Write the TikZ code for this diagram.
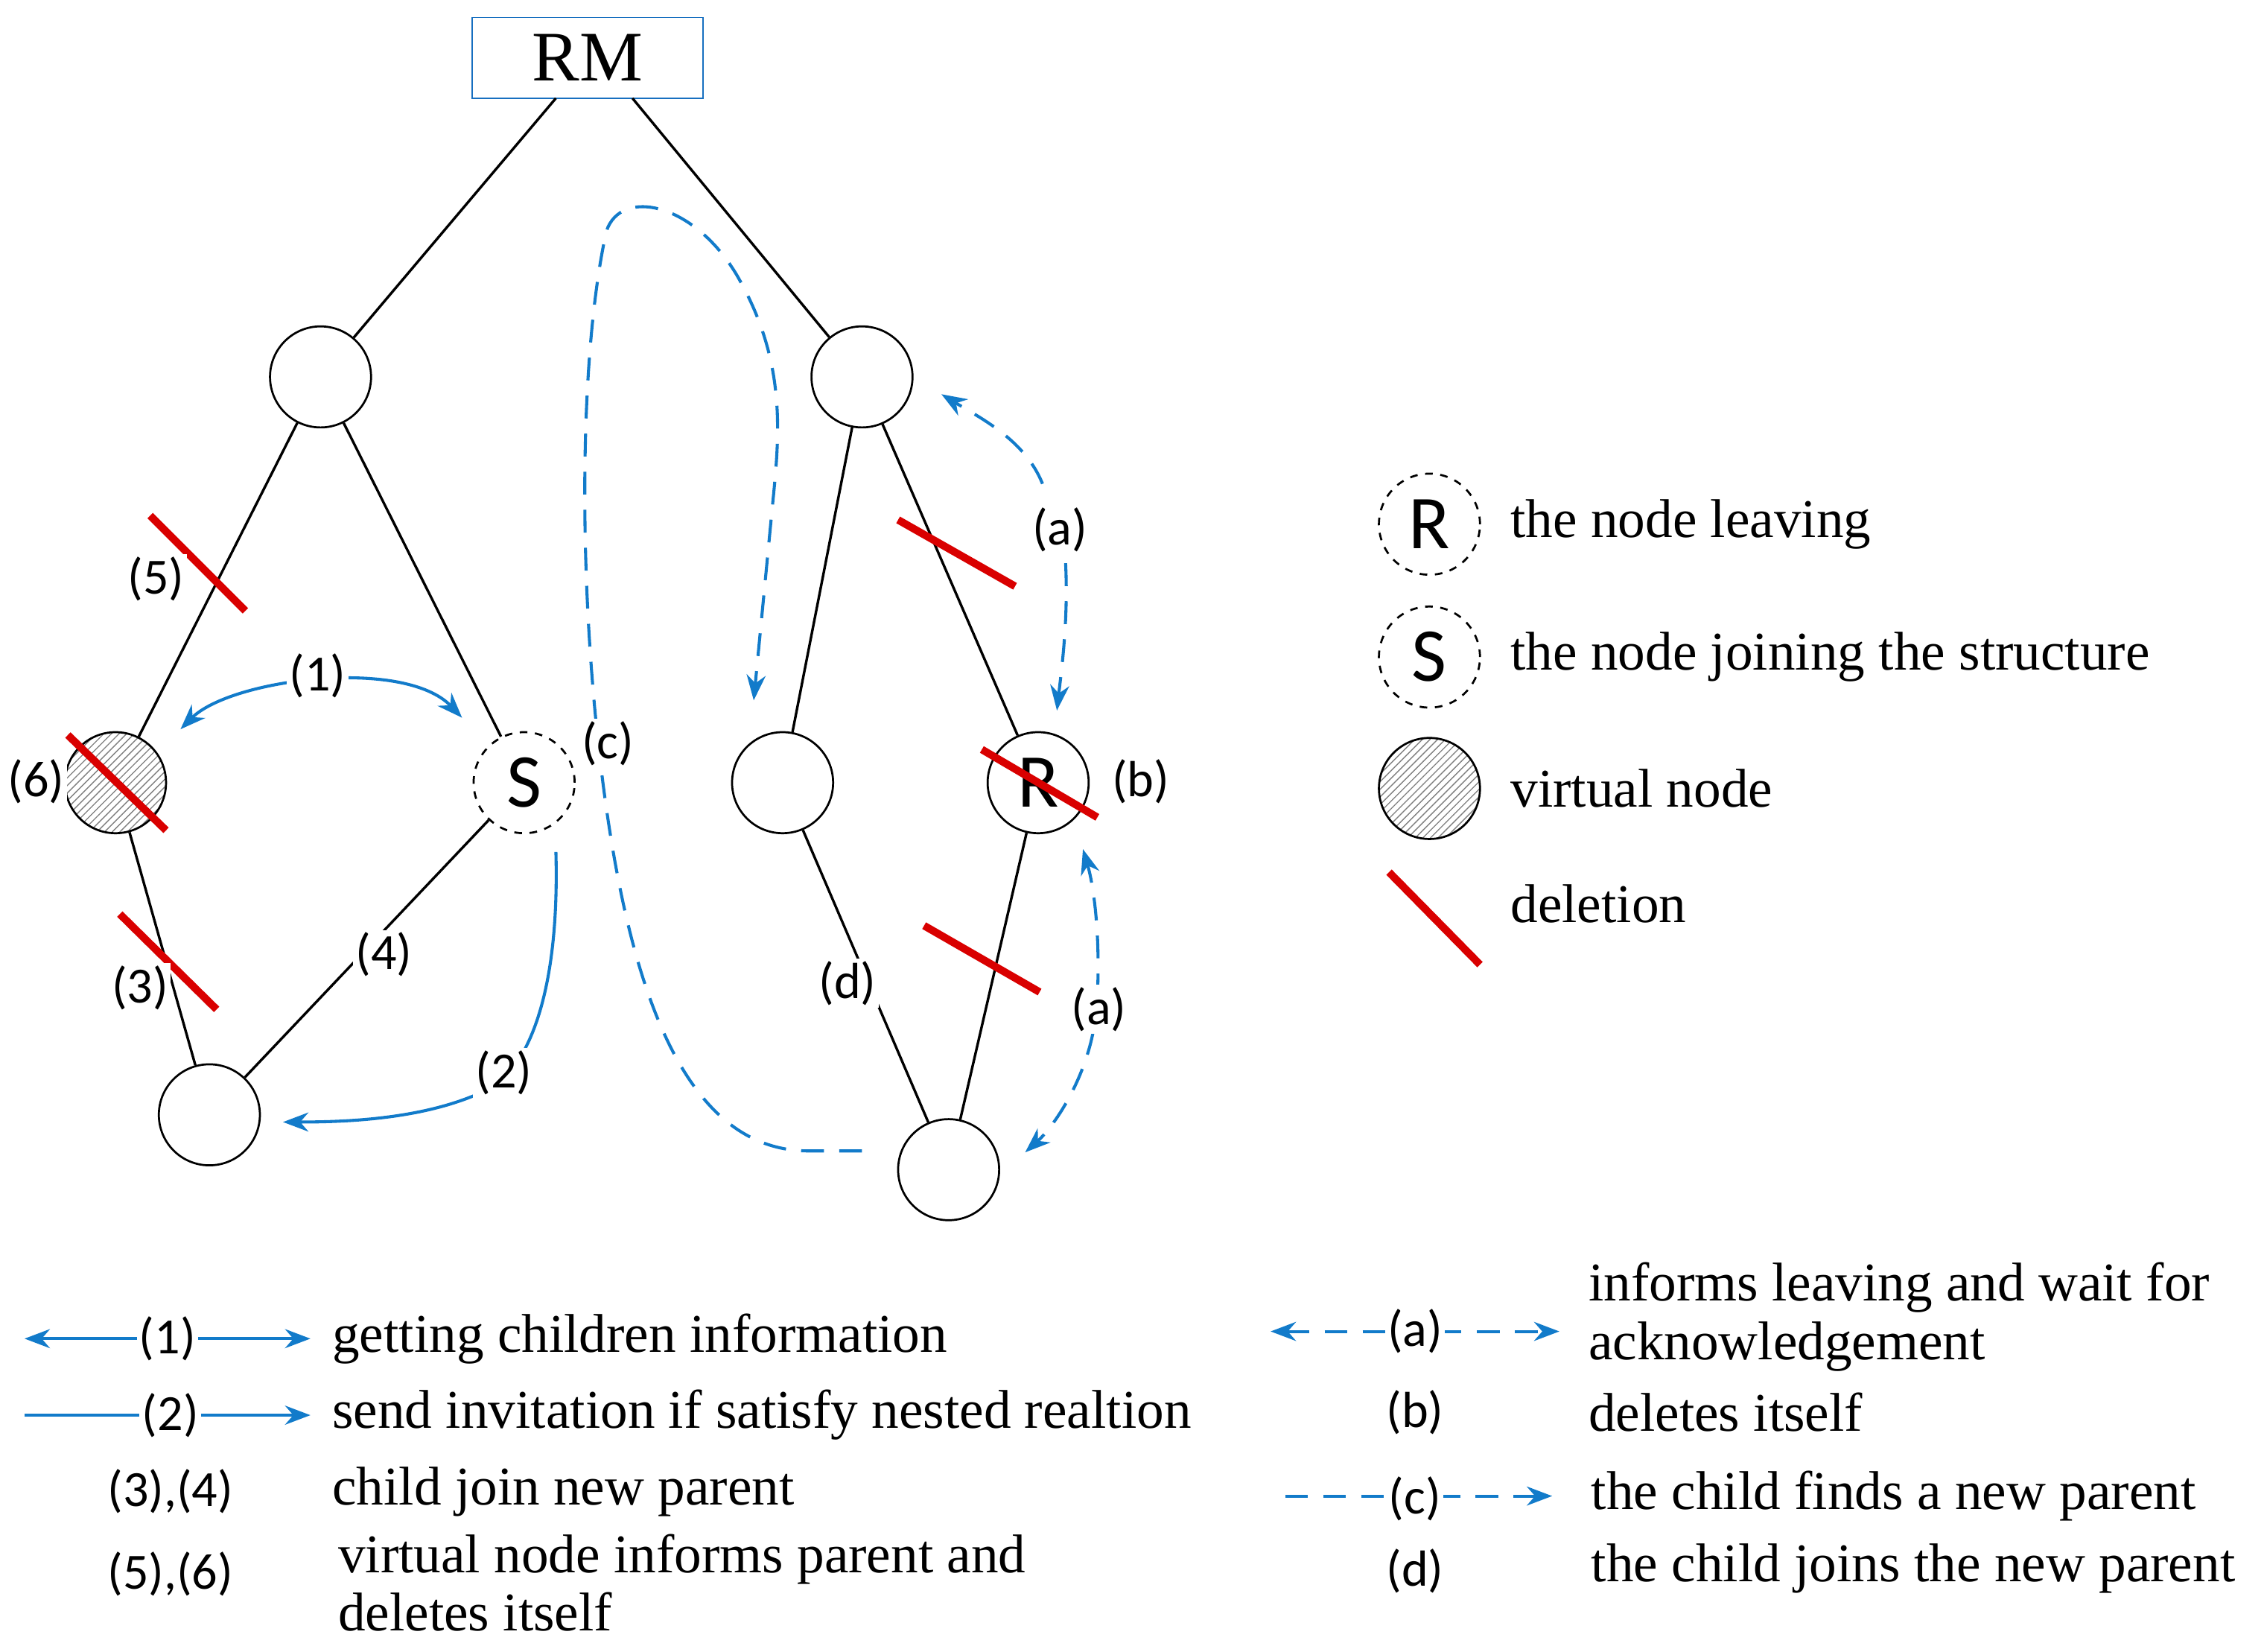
\documentclass[tikz,border=0pt]{standalone}
\usepackage{fontspec}
\setmainfont{Liberation Serif}
\newfontfamily\lab{Carlito}
\usetikzlibrary{patterns,arrows.meta}
\begin{document}
\begin{tikzpicture}[x=0.02cm,y=-0.02cm,
  tn/.style={draw,circle,minimum size=1.4cm,inner sep=0pt,line width=0.8pt},
  dn/.style={tn,dashed,font=\lab\fontsize{30}{30}\selectfont},
  ed/.style={line width=1pt},
  del/.style={draw=red!85!black,line width=3pt},
  bl/.style={draw=cyan!60!blue,line width=1.2pt,-{Stealth[length=10pt]}},
  bld/.style={bl,dash pattern=on 9pt off 6pt},
  lb/.style={font=\lab\fontsize{20}{20}\selectfont,fill=white,inner sep=1pt},
  lt/.style={font=\fontsize{21.5}{23}\selectfont,anchor=west,align=left}]
\useasboundingbox (0,0) rectangle (1568,1144);
\node[draw=cyan!50!blue,minimum width=3.2cm,minimum height=1.12cm,font=\fontsize{28}{28}\selectfont] (RM) at (407,40) {RM};
\node[tn] (A) at (222,261) {};
\node[tn] (B) at (597,261) {};
\node[tn,pattern=north east lines,pattern color=gray] (V) at (80,542) {};
\node[dn] (S) at (363,542) {S};
\node[tn] (C) at (542,542) {};
\node[dn,solid] (R) at (719,542) {R};
\node[tn] (L1) at (145,772) {};
\node[tn] (L2) at (657,810) {};
\coordinate (r1) at (385,68); \coordinate (r2) at (438,68);
\draw[ed] (r1)--(A); \draw[ed] (r2)--(B);
\draw[ed] (A)--(V); \draw[ed] (A)--(S); \draw[ed] (V)--(L1); \draw[ed] (S)--(L1);
\draw[ed] (B)--(C); \draw[ed] (B)--(R); \draw[ed] (C)--(L2); \draw[ed] (R)--(L2);
\draw[del] (104,357)--(170,423); \draw[del] (622,360)--(703,406);
\draw[del] (47,509)--(115,575); \draw[del] (680,519)--(760,566);
\draw[del] (83,633)--(150,699); \draw[del] (640,641)--(720,687);
\draw[bl,{Stealth[length=10pt]}-{Stealth[length=10pt]}] (125,505) .. controls (160,470) and (280,455) .. (320,497);
\draw[bl] (385,590) .. controls (388,700) and (360,750) .. (330,758) .. controls (290,775) and (240,777) .. (196,777);
\draw[bld] (722,335) .. controls (710,305) and (680,290) .. (652,273);
\draw[bld] (738,390) .. controls (740,430) and (735,465) .. (732,492);
\draw[bld] (760,690) .. controls (762,650) and (758,615) .. (750,588);
\draw[bld] (757,715) .. controls (750,750) and (730,780) .. (710,798);
\draw[bld] (597,797) -- (560,797) .. controls (480,797) and (440,700) .. (420,560) .. controls (400,420) and (400,250) .. (420,160) .. controls (430,130) and (480,140) .. (510,190) .. controls (545,250) and (540,300) .. (535,350) -- (522,485);
\node[lb] at (108,401) {(5)}; \node[lb] at (25,541) {(6)};
\node[lb] at (97,684) {(3)}; \node[lb] at (266,661) {(4)};
\node[lb] at (220,468) {(1)}; \node[lb] at (349,743) {(2)};
\node[lb] at (421,515) {(c)}; \node[lb] at (734,367) {(a)};
\node[lb] at (790,541) {(b)}; \node[lb] at (587,681) {(d)};
\node[lb] at (761,699) {(a)};
\node[dn] (lR) at (990,363) {R};
\node[dn] (lS) at (990,455) {S};
\node[tn,pattern=north east lines,pattern color=gray] (lV) at (990,546) {};
\draw[del] (962,604)--(1025,668);
\node[lt] at (1040,363) {the node leaving};
\node[lt] at (1040,455) {the node joining the structure};
\node[lt] at (1040,546) {virtual node};
\node[lt] at (1040,626) {deletion};
\draw[bl,{Stealth[length=10pt]}-{Stealth[length=10pt]}] (17,927)--(215,927);
\node[lb] at (116,927) {(1)};
\draw[bl] (17,980)--(215,980); \node[lb] at (118,980) {(2)};
\node[lb] at (118,1033) {(3),(4)}; \node[lb] at (118,1090) {(5),(6)};
\node[lt] at (224,927) {getting children information};
\node[lt] at (224,980) {send invitation if satisfy nested realtion};
\node[lt] at (224,1033) {child join new parent};
\node[lt] at (228,1096) {virtual node informs parent and\\deletes itself};
\draw[bld,{Stealth[length=10pt]}-{Stealth[length=10pt]}] (880,922)--(1080,922);
\node[lb] at (980,922) {(a)};
\node[lb] at (980,978) {(b)};
\draw[bld] (890,1036)--(1075,1036); \node[lb] at (980,1038) {(c)};
\node[lb] at (980,1088) {(d)};
\node[lt] at (1094,912) {informs leaving and wait for\\acknowledgement};
\node[lt] at (1094,978) {deletes itself};
\node[lt] at (1096,1036) {the child finds a new parent};
\node[lt] at (1096,1086) {the child joins the new parent};
\end{tikzpicture}
\end{document}
